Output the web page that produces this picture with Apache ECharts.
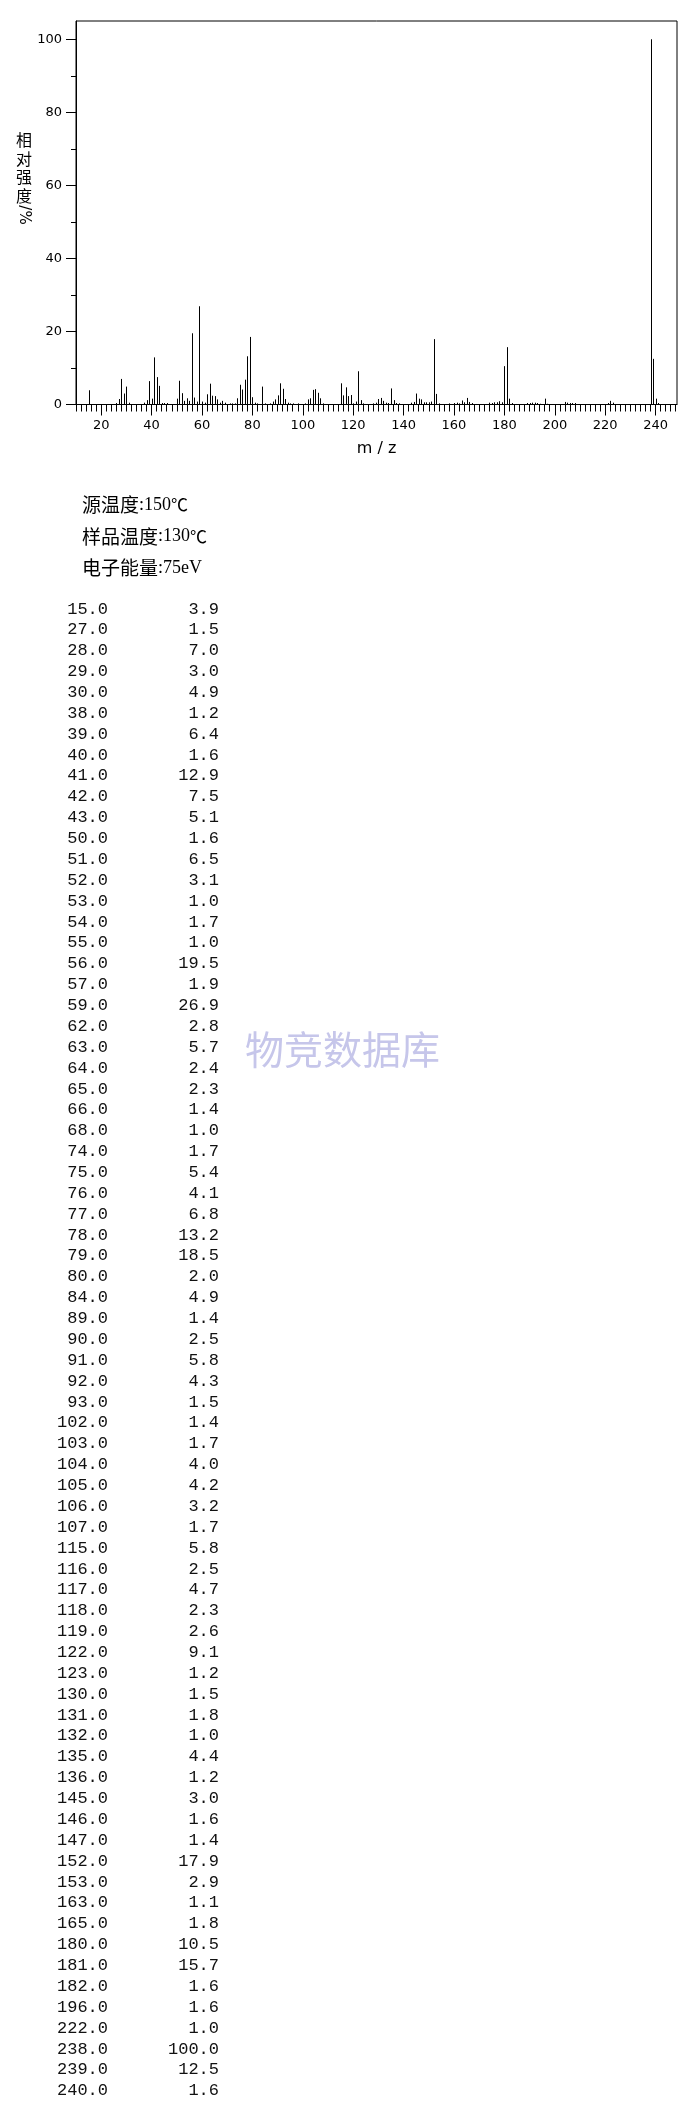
<!DOCTYPE html>
<html>
<head>
<meta charset="utf-8">
<script src="https://cdn.jsdelivr.net/npm/echarts@6/dist/echarts.min.js"></script>
<style>html,body{margin:0;padding:0;background:#fff}#c{width:687px;height:2101px}</style>
</head>
<body>
<div id="c"></div>
<script>
// ---- data ----
const peakMz = [15,27,28,29,30,38,39,40,41,42,43,50,51,52,53,54,55,56,57,59,62,63,64,65,66,68,74,75,76,77,78,79,80,84,89,90,91,92,93,102,103,104,105,106,107,115,116,117,118,119,122,123,130,131,132,135,136,145,146,147,152,153,163,165,180,181,182,196,222,238,239,240];
const peakInt = [3.9,1.5,7.0,3.0,4.9,1.2,6.4,1.6,12.9,7.5,5.1,1.6,6.5,3.1,1.0,1.7,1.0,19.5,1.9,26.9,2.8,5.7,2.4,2.3,1.4,1.0,1.7,5.4,4.1,6.8,13.2,18.5,2.0,4.9,1.4,2.5,5.8,4.3,1.5,1.4,1.7,4.0,4.2,3.2,1.7,5.8,2.5,4.7,2.3,2.6,9.1,1.2,1.5,1.8,1.0,4.4,1.2,3.0,1.6,1.4,17.9,2.9,1.1,1.8,10.5,15.7,1.6,1.6,1.0,100.0,12.5,1.6];
// small peaks (< 1 %) visible in the plot but not listed in the table (estimated)
const minorMz = [26,31,37,44,45,46,58,60,61,67,69,71,72,73,81,82,85,87,88,94,95,96,98,101,108,120,121,124,128,129,133,134,137,138,143,144,148,149,150,151,154,158,160,161,162,164,166,167,174,175,176,177,178,179,183,189,190,191,192,193,194,197,204,205,206,207,208,221,223,241];
const minorInt = [0.4,0.5,0.5,0.4,0.4,0.4,0.8,0.8,0.5,0.5,0.5,0.3,0.3,0.3,0.5,0.3,0.3,0.3,0.8,0.5,0.3,0.3,0.3,0.3,0.3,0.3,0.8,0.3,0.3,0.5,0.5,0.4,0.4,0.3,0.5,0.7,0.6,0.6,0.6,0.8,0.3,0.3,0.4,0.5,0.3,0.6,0.7,0.4,0.5,0.4,0.6,0.6,0.9,0.6,0.4,0.4,0.4,0.5,0.5,0.4,0.2,0.2,0.7,0.5,0.4,0.4,0.4,0.4,0.5,0.4];

const xLabelValues = [20,40,60,80,100,120,140,160,180,200,220,240];
const yLabelValues = [0,20,40,60,80,100];
const yMinorTicks = [10,30,50,70,90];
const xMinorTicks = [];
for (let v = 10; v <= 248; v += 2) xMinorTicks.push(v);

const xAxisTitle = 'm / z';
const yAxisTitleChars = ['相','对','强','度'];
const yAxisUnit = '/%';
const infoLabels = ['源温度','样品温度','电子能量'];
const infoValues = [':150',':130',':75eV'];
const infoUnits = ['℃','℃',''];
const watermark = '物竞数据库';

// ---- chart ----
const chart = echarts.init(document.getElementById('c'), null, {renderer: 'canvas'});

const seriesData = peakMz.map((m, i) => [m, peakInt[i]])
  .concat(minorMz.map((m, i) => [m, minorInt[i]]));

function renderItem(params, api) {
  const base = api.coord([api.value(0), 0]);
  const top = api.coord([api.value(0), api.value(1)]);
  const x = Math.round(base[0]) + 0.5;
  return {
    type: 'line',
    shape: {x1: x, y1: base[1], x2: x, y2: top[1]},
    style: {stroke: '#000', lineWidth: 1}
  };
}

const tickFont = 'DejaVu Sans';
const graphics = [];

// y axis title (vertical)
yAxisTitleChars.forEach((ch, i) => {
  graphics.push({
    type: 'text', x: 24, y: 140 + i * 18.5,
    style: {text: ch, font: '16px "Noto Sans CJK SC"', fill: '#000', align: 'center', verticalAlign: 'middle'}
  });
});
graphics.push({
  type: 'text', x: 24, y: 215, rotation: -Math.PI / 2,
  style: {text: yAxisUnit, font: '15px "DejaVu Sans"', fill: '#000', align: 'center', verticalAlign: 'middle'}
});

// info lines
infoLabels.forEach((lab, i) => {
  graphics.push({
    type: 'text', x: 82, y: 505 + i * 31.5,
    style: {
      text: '{c|' + lab + '}{d|' + infoValues[i] + '}' + (infoUnits[i] ? '{u|' + infoUnits[i] + '}' : ''),
      align: 'left', verticalAlign: 'middle', fill: '#000',
      rich: {
        c: {fontSize: 19, fontFamily: 'Noto Sans CJK SC', fill: '#000'},
        d: {fontSize: 18, fontFamily: 'Liberation Serif', fill: '#000'},
        u: {fontSize: 17, fontFamily: 'Noto Sans CJK SC', fill: '#000'}
      }
    }
  });
});

// table
peakMz.forEach((m, i) => {
  const y = 609 + i * 20.87;
  graphics.push({
    type: 'text', x: 108, y: y,
    style: {text: m.toFixed(1), font: '17px "Liberation Mono"', fill: '#111', align: 'right', verticalAlign: 'middle'}
  });
  graphics.push({
    type: 'text', x: 219, y: y,
    style: {text: peakInt[i].toFixed(1), font: '17px "Liberation Mono"', fill: '#111', align: 'right', verticalAlign: 'middle'}
  });
});

// watermark
graphics.push({
  type: 'text', x: 245, y: 1049, z: 10,
  style: {text: watermark, font: '39px "Noto Sans CJK SC"', fill: '#c6c6ea', align: 'left', verticalAlign: 'middle'}
});

const option = {
  animation: false,
  backgroundColor: '#fff',
  grid: {
    left: 76, top: 21, width: 601, height: 383.5,
    show: true, borderColor: '#000', borderWidth: 1, backgroundColor: 'transparent'
  },
  xAxis: [
    {
      type: 'value', min: 10, max: 248.5, position: 'bottom',
      axisLine: {show: true, onZero: false, lineStyle: {color: '#000', width: 1}},
      axisTick: {show: true, customValues: xLabelValues, length: 11, lineStyle: {color: '#000'}},
      axisLabel: {customValues: xLabelValues, color: '#000', fontSize: 13, fontFamily: tickFont, margin: 15},
      splitLine: {show: false},
      name: xAxisTitle, nameLocation: 'middle', nameGap: 36,
      nameTextStyle: {color: '#000', fontSize: 16, fontFamily: tickFont}
    },
    {
      type: 'value', min: 10, max: 248.5, position: 'bottom',
      axisLine: {show: false, onZero: false},
      axisTick: {show: true, customValues: xMinorTicks, length: 7, lineStyle: {color: '#000'}},
      axisLabel: {show: false},
      splitLine: {show: false}
    }
  ],
  yAxis: [
    {
      type: 'value', min: 0, max: 105, position: 'left',
      axisLine: {show: true, onZero: false, lineStyle: {color: '#000', width: 1}},
      axisTick: {show: true, customValues: yLabelValues, length: 10, lineStyle: {color: '#000'}},
      axisLabel: {customValues: yLabelValues, color: '#000', fontSize: 13, fontFamily: tickFont, margin: 14},
      splitLine: {show: false}
    },
    {
      type: 'value', min: 0, max: 105, position: 'left',
      axisLine: {show: false, onZero: false},
      axisTick: {show: true, customValues: yMinorTicks, length: 5, lineStyle: {color: '#000'}},
      axisLabel: {show: false},
      splitLine: {show: false}
    }
  ],
  series: [{
    type: 'custom',
    xAxisIndex: 0, yAxisIndex: 0,
    renderItem: renderItem,
    encode: {x: 0, y: 1},
    data: seriesData,
    clip: false
  }],
  graphic: graphics
};

chart.setOption(option);
</script>
</body>
</html>
